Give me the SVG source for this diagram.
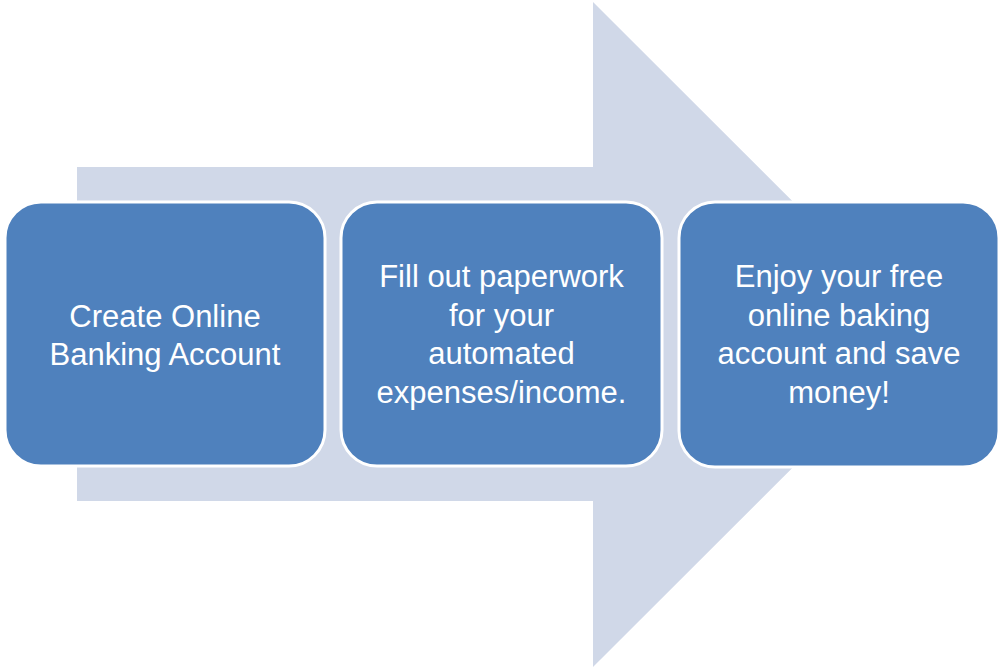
<svg xmlns="http://www.w3.org/2000/svg" width="1004" height="669" viewBox="0 0 1004 669">
<style>
.box{fill:#4F81BD;stroke:#FFFFFF;stroke-width:3}
.lbl{font-family:"Liberation Sans",Arial,sans-serif;font-size:31px;fill:#FFFFFF;text-anchor:middle}
</style>
<rect width="1004" height="669" fill="#FFFFFF"/>
<g id="arrow">
<polygon points="77,167 593,167 593,2 926,334.5 593,667 593,501 77,501" fill="#D0D8E8"/>
</g>
<g id="connectors"></g>
<g id="node1">
<rect class="box" x="5" y="202" width="320" height="264" rx="36" ry="36"/>
<text class="lbl" x="165" y="327">Create Online</text>
<text class="lbl" x="165" y="365">Banking Account</text>
</g>
<g id="node2">
<rect class="box" x="341" y="202" width="321" height="264" rx="36" ry="36"/>
<text class="lbl" x="501.5" y="287">Fill out paperwork</text>
<text class="lbl" x="501.5" y="325.5">for your</text>
<text class="lbl" x="501.5" y="364">automated</text>
<text class="lbl" x="501.5" y="402.5">expenses/income.</text>
</g>
<g id="node3">
<rect class="box" x="679" y="202" width="320" height="265" rx="36" ry="36"/>
<text class="lbl" x="839" y="287">Enjoy your free</text>
<text class="lbl" x="839" y="325.5">online baking</text>
<text class="lbl" x="839" y="364">account and save</text>
<text class="lbl" x="839" y="402.5">money!</text>
</g>
</svg>
